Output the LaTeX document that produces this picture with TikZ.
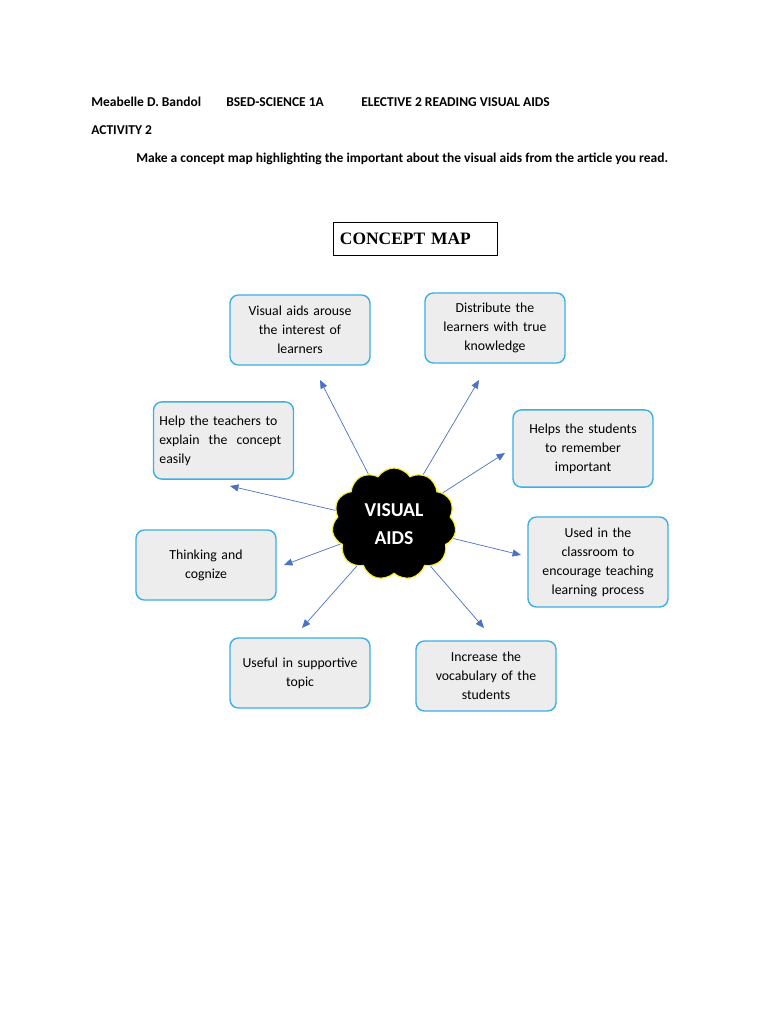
\documentclass[tikz,border=0pt]{standalone}
\usepackage{fontspec}
\setmainfont{Carlito}
\newfontfamily\timesfont{Liberation Serif}
\usetikzlibrary{shapes.symbols,arrows.meta}

\definecolor{ideaborder}{RGB}{60,176,228}
\definecolor{ideafill}{RGB}{237,237,237}
\definecolor{linkblue}{RGB}{76,114,196}
\definecolor{cloudedge}{RGB}{250,240,40}

\begin{document}
\begin{tikzpicture}[
		x=0.025cm, y=-0.025cm,
		head/.style={anchor=west, inner sep=0pt, font=\fontsize{9.6}{12}\selectfont\bfseries},
		title/.style={rectangle, draw=black, line width=0.5pt, minimum width=4.1cm,
			minimum height=0.83cm, text width=3.75cm, align=left, inner sep=0pt,
			font=\timesfont\fontsize{12.4}{14}\selectfont\bfseries},
		idea/.style={rectangle, rounded corners=6pt, draw=ideaborder, line width=1pt,
			fill=ideafill, align=center, text width=3.2cm,
			minimum width=3.5cm, minimum height=1.75cm, inner sep=2pt,
			font=\fontsize{9.8}{13.5}\selectfont},
		core/.style={cloud, cloud puffs=11, cloud puff arc=115, aspect=1.1,
			fill=black, draw=cloudedge, line width=0.8pt, text=white, align=center,
			minimum width=3.1cm, minimum height=2.8cm, inner sep=0pt,
			font=\fontsize{14}{20}\selectfont\bfseries},
		link/.style={-{Triangle[length=6pt,width=5pt]}, draw=linkblue, line width=0.5pt}
	]
		\useasboundingbox[fill=white] (0,0) rectangle (768,1024);
		% cabecalho
		\node[head] (hName) at (91,102) {Meabelle D. Bandol};
		\node[head] (hClass) at (226,102) {BSED-SCIENCE 1A};
		\node[head] (hSubj) at (361,102) {ELECTIVE 2 READING VISUAL AIDS};
		\node[head] (hAct) at (91,130) {ACTIVITY 2};
		\node[head] (hTask) at (136,159) {Make a concept map highlighting the important about the visual aids from the article you read.};
		\node[title] (TIT) at (415,238.5) {CONCEPT MAP};
		% nuvem central
		\node[core] (VA) at (394,524) {VISUAL\\AIDS};
		% caixas
		\node[idea] (IN1) at (300,330) {Visual aids arouse\\the interest of\\learners};
		\node[idea] (IN2) at (495,328) {Distribute the\\learners with true\\knowledge};
		\node[idea, minimum height=1.93cm] (IN3) at (583,448.5) {Helps the students\\to remember\\important};
		\node[idea, minimum height=1.93cm, align=left] (IN4) at (223.5,440.5) {Help the teachers to\\explain~ the~ concept\\easily};
		\node[idea] (IN5) at (206,565) {Thinking and\\cognize};
		\node[idea, minimum height=2.25cm] (IN6) at (598,562) {Used in the\\classroom to\\encourage teaching\\learning process};
		\node[idea] (IN7) at (300,673) {Useful in supportive\\topic};
		\node[idea] (IN8) at (486,676) {Increase the\\vocabulary of the\\students};
		% pontas das setas
		\coordinate (t1) at (320,380);
		\coordinate (t2) at (479,380);
		\coordinate (t3) at (505,453);
		\coordinate (t4) at (230,486);
		\coordinate (t5) at (284,565);
		\coordinate (t6) at (521,555);
		\coordinate (t7) at (302,628);
		\coordinate (t8) at (484,628);
		% setas da nuvem
		\foreach \t in {1,...,8}
			\draw[link] (VA) -- (t\t);
	\end{tikzpicture}
\end{document}
